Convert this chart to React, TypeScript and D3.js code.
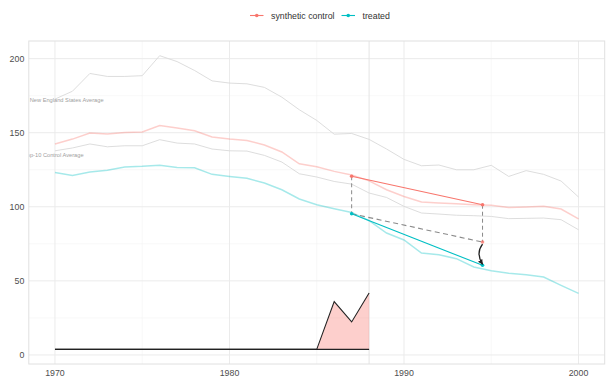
import React from "react";
import * as d3 from "d3";

const years = [1970, 1971, 1972, 1973, 1974, 1975, 1976, 1977, 1978, 1979, 1980, 1981, 1982, 1983, 1984, 1985, 1986, 1987, 1988, 1989, 1990, 1991, 1992, 1993, 1994, 1995, 1996, 1997, 1998, 1999, 2000];
const newEngland = [172.7, 178, 190, 188, 188, 188.5, 202, 198, 192, 185, 183.5, 183, 180.6, 174, 165.5, 158.3, 149, 149.5, 145.5, 139, 132, 127.7, 128.2, 125, 125, 128, 120.5, 124.4, 121.9, 117.4, 106.6];
const top10 = [137.8, 139.7, 142.4, 140.5, 141.2, 141.2, 145.3, 143, 142.4, 139, 137.8, 137.6, 134.7, 130.2, 122.3, 120.1, 117.1, 115.3, 109.3, 106.3, 100.3, 95.8, 95.1, 94.3, 94, 93.5, 92, 92.2, 92.4, 91.3, 84.5];
const synthetic = [142.4, 145.7, 149.8, 149.1, 150.2, 150.5, 154.9, 153.2, 151.3, 147.1, 145.7, 144.8, 141.7, 137, 129, 127, 123.9, 121.5, 117.5, 111.5, 107, 103.2, 102.5, 102, 101.4, 101, 99.6, 99.9, 100.3, 98.5, 91.8];
const treated = [123.2, 121.2, 123.5, 124.6, 126.9, 127.3, 128.1, 126.6, 126.4, 121.9, 120.5, 119.2, 116.1, 111.5, 105.3, 101.4, 98.7, 96.2, 90.6, 82.3, 77.6, 68.8, 67.7, 65, 59.4, 56.9, 55.1, 54.2, 52.6, 47, 41.6];

const segYears = [1987, 1994.5];
const segSynthetic = [120.6, 101.4];
const segTreated = [95.3, 60.5];
const segCounterfactual = [95.3, 76.2];

const areaYears = [1970, 1985, 1986, 1987, 1988];
const areaValues = [3.8, 3.8, 36, 22.3, 41.8];
const areaBase = 3.8;

const treatmentYear = 1988;
const xTicks = [1970, 1980, 1990, 2000];
const xMinor = [1975, 1985, 1995];
const yTicks = [0, 50, 100, 150, 200];
const yMinor = [25, 75, 125, 175];

const annotations = [
  { text: "New England States Average", year: 1968.55, value: 170.7 },
  { text: "Top-10 Control Average", year: 1968.22, value: 133.6 },
];
const legendItems = [
  { label: "synthetic control", color: "#F8766D" },
  { label: "treated", color: "#00BFC4" },
];

const RED = "#F8766D";
const TEAL = "#00BFC4";

export default function App() {
  const W = 609, H = 390;
  const left = 28.8, right = 604.7, top = 41, bottom = 364;
  const xDomain = [1970, 2000];
  const xPad = (xDomain[1] - xDomain[0]) * 0.05;
  const x = d3.scaleLinear().domain([xDomain[0] - xPad, xDomain[1] + xPad]).range([left, right]);
  const all = [...newEngland, ...top10, ...synthetic, ...treated, ...areaValues];
  const [ymin, ymax] = d3.extent(all) as [number, number];
  const yPad = (ymax - ymin) * 0.05;
  const y = d3.scaleLinear().domain([ymin - yPad, ymax + yPad]).range([bottom, top]);

  const line = d3.line<number>().x((_, i) => x(years[i])).y((v) => y(v));
  const segLine = (vals: number[]) => d3.line<number>().x((_, i) => x(segYears[i])).y((v) => y(v))(vals) as string;
  const areaGen = d3.area<number>().x((_, i) => x(areaYears[i])).y0(() => y(areaBase)).y1((v) => y(v));
  const areaLine = d3.line<number>().x((_, i) => x(areaYears[i])).y((v) => y(v));

  const ax = x(segYears[1]);
  const ay1 = y(segCounterfactual[1]);
  const ay2 = y(segTreated[1]) - 1;
  const arrowPath = `M${ax},${ay1 + 2} Q${ax - 7},${(ay1 + ay2) / 2} ${ax},${ay2}`;

  const font = "'Liberation Sans', Arial, sans-serif";

  return (
    <svg width={W} height={H} style={{ position: "absolute", left: 0, top: 0, background: "#fff" }} fontFamily={font}>
      <defs>
        <clipPath id="panel">
          <rect x={left} y={top} width={right - left} height={bottom - top} />
        </clipPath>
        <marker id="arr" viewBox="0 0 10 10" refX="9" refY="5" markerWidth="4" markerHeight="4" orient="auto">
          <path d="M0,0 L10,5 L0,10 z" fill="#222" />
        </marker>
      </defs>
      {yMinor.map((t) => (
        <line key={"ym" + t} x1={left} x2={right} y1={y(t)} y2={y(t)} stroke="#f3f3f3" strokeWidth={0.6} />
      ))}
      {xMinor.map((t) => (
        <line key={"xm" + t} y1={top} y2={bottom} x1={x(t)} x2={x(t)} stroke="#f3f3f3" strokeWidth={0.6} />
      ))}
      {yTicks.map((t) => (
        <line key={"y" + t} x1={left} x2={right} y1={y(t)} y2={y(t)} stroke="#ebebeb" strokeWidth={1} />
      ))}
      {xTicks.map((t) => (
        <line key={"x" + t} y1={top} y2={bottom} x1={x(t)} x2={x(t)} stroke="#ebebeb" strokeWidth={1} />
      ))}
      <line x1={x(treatmentYear)} x2={x(treatmentYear)} y1={top} y2={bottom} stroke="#e4e4e4" strokeWidth={1} />

      <g clipPath="url(#panel)">
        <path d={line(newEngland) as string} fill="none" stroke="#d9d9d9" strokeWidth={0.9} />
        <path d={line(top10) as string} fill="none" stroke="#d9d9d9" strokeWidth={0.9} />
        <path d={line(synthetic) as string} fill="none" stroke={RED} strokeOpacity={0.35} strokeWidth={1.5} />
        <path d={line(treated) as string} fill="none" stroke={TEAL} strokeOpacity={0.35} strokeWidth={1.5} />

        {annotations.map((a) => (
          <text key={a.text} x={x(a.year)} y={y(a.value)} fontSize={5.7} fill="#a0a0a0">
            {a.text}
          </text>
        ))}

        <path d={areaGen(areaValues) as string} fill={RED} fillOpacity={0.35} stroke="none" />
        <line x1={x(areaYears[0])} x2={x(areaYears[areaYears.length - 1])} y1={y(areaBase)} y2={y(areaBase)} stroke="#222" strokeWidth={1.2} />
        <path d={areaLine(areaValues) as string} fill="none" stroke="#222" strokeWidth={1.1} strokeLinejoin="miter" />

        <line x1={x(segYears[0])} x2={x(segYears[0])} y1={y(segSynthetic[0])} y2={y(segTreated[0])} stroke="#8a8a8a" strokeWidth={1} strokeDasharray="4,3" />
        <line x1={x(segYears[1])} x2={x(segYears[1])} y1={y(segSynthetic[1])} y2={y(segCounterfactual[1])} stroke="#8a8a8a" strokeWidth={1} strokeDasharray="4,3" />
        <path d={segLine(segCounterfactual)} fill="none" stroke="#8a8a8a" strokeWidth={1.1} strokeDasharray="5,3.5" />

        <path d={segLine(segSynthetic)} fill="none" stroke={RED} strokeWidth={1.1} />
        <path d={segLine(segTreated)} fill="none" stroke={TEAL} strokeWidth={1.1} />
        {segYears.map((yr, i) => (
          <g key={"p" + i}>
            <circle cx={x(yr)} cy={y(segSynthetic[i])} r={1.8} fill={RED} />
            <circle cx={x(yr)} cy={y(segTreated[i])} r={1.8} fill={TEAL} />
          </g>
        ))}
        <circle cx={x(segYears[1])} cy={y(segCounterfactual[1])} r={1.8} fill={RED} fillOpacity={0.8} />
        <path d={arrowPath} fill="none" stroke="#222" strokeWidth={1.3} markerEnd="url(#arr)" />
      </g>

      <rect x={left} y={top} width={right - left} height={bottom - top} fill="none" stroke="#e0e0e0" strokeWidth={1} />

      {yTicks.map((t) => (
        <text key={"yl" + t} x={left - 4.5} y={y(t)} dy="0.35em" textAnchor="end" fontSize={8.8} fill="#4d4d4d">
          {t}
        </text>
      ))}
      {xTicks.map((t) => (
        <text key={"xl" + t} x={x(t)} y={bottom + 12} textAnchor="middle" fontSize={8.8} fill="#4d4d4d">
          {t}
        </text>
      ))}

      {legendItems.map((it, i) => {
        const kx = i === 0 ? 250 : 341.5;
        const ky = 15.5;
        return (
          <g key={it.label}>
            <line x1={kx} x2={kx + 13.5} y1={ky} y2={ky} stroke={it.color} strokeWidth={1.1} />
            <circle cx={kx + 6.75} cy={ky} r={1.8} fill={it.color} />
            <text x={kx + 21} y={ky} dy="0.35em" fontSize={8.8} fill="#333">
              {it.label}
            </text>
          </g>
        );
      })}
    </svg>
  );
}
